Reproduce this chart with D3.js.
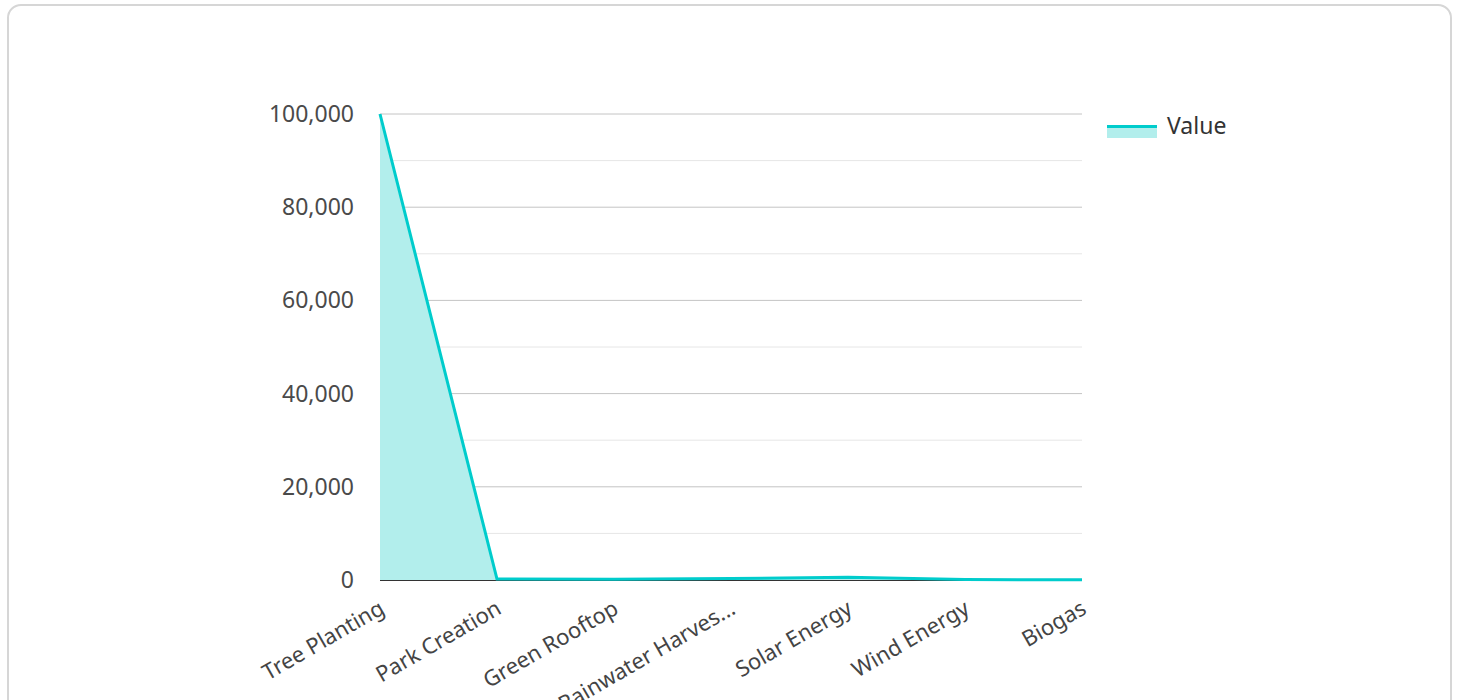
<!DOCTYPE html>
<html>
<head>
<meta charset="utf-8">
<script src="https://cdn.jsdelivr.net/npm/d3@7"></script>
<style>
  body { margin: 0; background: #fff; font-family: "Noto Sans", "Open Sans", sans-serif; }
  .card { position: absolute; left: 7px; top: 4px; width: 1445px; height: 720px;
          border: 2px solid #d6d6d6; border-radius: 14px; box-sizing: border-box; }
</style>
</head>
<body>
<div class="card"></div>
<svg id="chart"></svg>
<script>
const categories = ["Tree Planting", "Park Creation", "Green Rooftop", "Rainwater Harvesting", "Solar Energy", "Wind Energy", "Biogas"];
const values = [100000, 200, 150, 300, 600, 100, 50];
const yTicks = [0, 20000, 40000, 60000, 80000, 100000];
const seriesName = "Value";

const width = 1458;
const height = 700;
const margin = { left: 380, right: 376, top: 114, bottom: 120 };

const svg = d3.select("#chart")
    .attr("width", width)
    .attr("height", height)
    .style("position", "absolute")
    .style("left", 0)
    .style("top", 0);

const x = d3.scalePoint()
    .domain(categories)
    .range([margin.left, width - margin.right]);

const y = d3.scaleLinear()
    .domain([0, 100000])
    .range([height - margin.bottom, margin.top]);

// minor grid
svg.append("g")
    .selectAll("line")
    .data(d3.range(10000, 100000, 20000))
    .enter().append("line")
    .attr("x1", margin.left).attr("x2", width - margin.right)
    .attr("y1", d => y(d)).attr("y2", d => y(d))
    .attr("stroke", "#e6e6e6").attr("stroke-width", 1);

// major grid
svg.append("g")
    .selectAll("line")
    .data(yTicks.filter(d => d > 0))
    .enter().append("line")
    .attr("x1", margin.left).attr("x2", width - margin.right)
    .attr("y1", d => y(d)).attr("y2", d => y(d))
    .attr("stroke", "#c4c4c4").attr("stroke-width", 1);

// y tick labels
svg.append("g")
    .selectAll("text")
    .data(yTicks)
    .enter().append("text")
    .attr("x", margin.left - 26)
    .attr("y", d => y(d))
    .attr("dy", "0.35em")
    .attr("text-anchor", "end")
    .attr("font-size", 23)
    .attr("fill", "#4a4a4a")
    .text(d => d3.format(",")(d));

// baseline
svg.append("line")
    .attr("x1", margin.left).attr("x2", width - margin.right)
    .attr("y1", y(0)).attr("y2", y(0))
    .attr("stroke", "#333").attr("stroke-width", 2);

const area = d3.area()
    .x((d, i) => x(categories[i]))
    .y0(y(0))
    .y1(d => y(d));

const line = d3.line()
    .x((d, i) => x(categories[i]))
    .y(d => y(d));

svg.append("path")
    .datum(values)
    .attr("d", area)
    .attr("fill", "#b2eeec");

svg.append("path")
    .datum(values)
    .attr("d", line)
    .attr("fill", "none")
    .attr("stroke", "#00cccc")
    .attr("stroke-width", 3);

// x labels
function shorten(s) {
    return s.length > 17 ? s.slice(0, 16) + "..." : s;
}
svg.append("g")
    .selectAll("text")
    .data(categories)
    .enter().append("text")
    .attr("transform", d => `translate(${x(d) + 2},${y(0) + 26}) rotate(-30)`)
    .attr("text-anchor", "end")
    .attr("dy", "0.35em")
    .attr("font-size", 22)
    .attr("fill", "#444")
    .text(d => shorten(d));

// legend
const legend = svg.append("g").attr("transform", "translate(1107,125)");
legend.append("rect")
    .attr("x", 0).attr("y", 0).attr("width", 50).attr("height", 13)
    .attr("fill", "#b2eeec");
legend.append("line")
    .attr("x1", 0).attr("x2", 50).attr("y1", 1.5).attr("y2", 1.5)
    .attr("stroke", "#00cccc").attr("stroke-width", 3);
legend.append("text")
    .attr("x", 60).attr("y", 1)
    .attr("dy", "0.35em")
    .attr("font-size", 23)
    .attr("fill", "#333")
    .text(seriesName);
</script>
</body>
</html>
